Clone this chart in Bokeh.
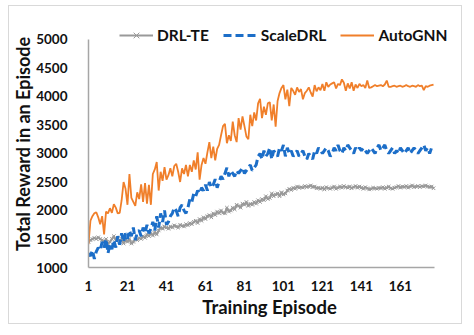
from bokeh.plotting import figure
from bokeh.models import Range1d, FixedTicker, Legend, LegendItem, Title, Spacer
from bokeh.layouts import column, row
from bokeh.embed import file_html
from bokeh.resources import INLINE

episodes = list(range(1, 179))

drl_te = [
    1450, 1480, 1500, 1520, 1500, 1530, 1500, 1480, 1450, 1500,
    1420, 1450, 1500, 1550, 1480, 1520, 1450, 1500, 1420, 1480,
    1450, 1500, 1420, 1450, 1500, 1480, 1520, 1500, 1550, 1520,
    1580, 1550, 1600, 1560, 1620, 1580, 1650, 1700, 1680, 1720,
    1700, 1680, 1720, 1700, 1740, 1720, 1700, 1750, 1730, 1720,
    1760, 1740, 1780, 1760, 1800, 1820, 1780, 1850, 1820, 1880,
    1850, 1900, 1920, 1880, 1950, 1920, 1980, 1950, 2000, 1960,
    1950, 2050, 1980, 2000, 2050, 2020, 2100, 2080, 2050, 2120,
    2100, 2150, 2080, 2120, 2100, 2150, 2120, 2180, 2150, 2200,
    2180, 2250, 2200, 2220, 2300, 2250, 2280, 2300, 2250, 2320,
    2280, 2300, 2350, 2380, 2360, 2400, 2380, 2420, 2400, 2410,
    2400, 2430, 2410, 2420, 2440, 2410, 2420, 2390, 2400, 2380,
    2400, 2370, 2410, 2390, 2380, 2400, 2420, 2380, 2400, 2420,
    2400, 2430, 2410, 2400, 2420, 2390, 2410, 2430, 2400, 2420,
    2400, 2380, 2410, 2390, 2370, 2380, 2400, 2390, 2380, 2400,
    2390, 2410, 2380, 2400, 2420, 2390, 2380, 2400, 2410, 2430,
    2400, 2420, 2410, 2430, 2400, 2420, 2440, 2410, 2420, 2430,
    2410, 2430, 2420, 2440, 2420, 2410, 2420, 2390,
]

scale_drl = [
    1250, 1200, 1300, 1150, 1280, 1350, 1300, 1450, 1350, 1500,
    1250, 1400, 1320, 1480, 1350, 1550, 1400, 1600, 1450, 1600,
    1500, 1650, 1550, 1700, 1480, 1620, 1650, 1550, 1700, 1600,
    1750, 1600, 1680, 1800, 1650, 1900, 1700, 1950, 1800, 2000,
    1750, 1800, 1900, 1950, 2050, 2000, 1900, 2050, 2100, 2000,
    1950, 2050, 2200, 2150, 2300, 2250, 2350, 2300, 2400, 2350,
    2450, 2350, 2500, 2400, 2450, 2550, 2400, 2500, 2600, 2550,
    2650, 2750, 2600, 2700, 2650, 2600, 2700, 2650, 2700, 2750,
    2650, 2700, 2750, 2800, 2700, 2750, 2800, 2950, 3000, 2900,
    3050, 2950, 3000, 3100, 2900, 3050, 3000, 2950, 3100, 3050,
    3150, 2950, 3100, 3000, 3050, 2950, 3000, 3050, 2950, 3000,
    3050, 2950, 2900, 3000, 2950, 2900, 3050, 3000, 3100, 3050,
    3000, 3050, 3100, 3050, 2950, 3000, 3100, 3050, 3150, 3050,
    3000, 3100, 3050, 3150, 3100, 3050, 3000, 3100, 3050, 3100,
    3050, 3100, 3050, 3000, 3050, 3100, 3050, 3000, 3100, 3150,
    3050, 3100, 3150, 3050, 3000, 3050, 3100, 3000, 3050, 3000,
    3100, 3050, 3000, 3050, 3100, 3000, 3050, 3100, 3050, 3000,
    3050, 3100, 3150, 3050, 3100, 3000, 3100, 3050,
]

auto_gnn = [
    1410, 1820, 1900, 1950, 1970, 1880, 1760, 1900, 1580, 1980,
    1950, 2040, 1960, 2110, 2050, 1950, 1960, 2180, 2500, 2380,
    2100, 2640, 2220, 2150, 2080, 2320, 2200, 2460, 2150, 2480,
    2120, 2450, 2100, 2640, 2720, 2850, 2350, 2680, 2520, 2760,
    2540, 2620, 2740, 2600, 2780, 2820, 2680, 2500, 2740, 2640,
    2800, 2600, 2800, 2680, 2880, 2720, 3020, 2540, 2800, 2920,
    2820, 3020, 3200, 2920, 3120, 2880, 3080, 3150, 3320, 3480,
    3520, 3180, 3320, 3220, 3560, 3320, 3200, 3620, 3420, 3650,
    3480, 3300, 3250, 3680, 3480, 3720, 3580, 3880, 3960, 3620,
    3820, 3680, 3880, 3900, 3580, 3860, 3470, 3920, 4060, 4150,
    4200, 3950, 4120, 3830, 4150, 4100, 4030, 4160, 4080, 4130,
    3950, 4060, 4100, 4160, 4070, 4000, 4200, 4090, 4160, 4110,
    4220, 4100, 4250, 4170, 4210, 4230, 4250, 4140, 4220, 4200,
    4300, 4240, 4100, 4230, 4140, 4250, 4100, 4210, 4150, 4220,
    4180, 4200, 4150, 4280, 4150, 4160, 4180, 4200, 4180, 4190,
    4200, 4180, 4210, 4280, 4170, 4170, 4180, 4190, 4170, 4180,
    4190, 4170, 4180, 4200, 4180, 4170, 4190, 4180, 4170, 4200,
    4180, 4190, 4110, 4180, 4170, 4190, 4200, 4210,
]

series_names = ["DRL-TE", "ScaleDRL", "AutoGNN"]
x_ticks = [1, 21, 41, 61, 81, 101, 121, 141, 161]
y_ticks = [1000, 1500, 2000, 2500, 3000, 3500, 4000, 4500, 5000]
x_label = "Training Episode"
y_label = "Total Reward in an Episode"

FONT = "Lato"
GRAY = "#999999"
BLUE = "#1C6EC8"
ORANGE = "#F07F2A"
AXIS = "#A6A6A6"
TXT = "#111111"

p = figure(width=452, height=317, output_backend="svg", toolbar_location=None,
           x_range=Range1d(1, 186.7), y_range=Range1d(1000, 5333),
           min_border_left=79, min_border_right=11, min_border_top=14,
           min_border_bottom=56, background_fill_color="white",
           border_fill_color="white", outline_line_color=None)
p.grid.visible = False

r_gray = p.line(episodes, drl_te, line_color=GRAY, line_width=2.2)
r_gray_m = p.scatter(episodes, drl_te, marker="x", size=5, line_color=GRAY, line_width=1)
r_blue = p.line(episodes, scale_drl, line_color=BLUE, line_width=3, line_dash="8 4")
r_orange = p.line(episodes, auto_gnn, line_color=ORANGE, line_width=1.8)

for ax in (p.xaxis[0], p.yaxis[0]):
    ax.axis_line_color = AXIS
    ax.axis_line_width = 1.5
    ax.major_tick_line_color = None
    ax.minor_tick_line_color = None
    ax.major_label_text_font = FONT
    ax.major_label_text_font_style = "bold"
    ax.major_label_text_font_size = "13.5px"
    ax.major_label_text_color = TXT

p.xaxis[0].ticker = FixedTicker(ticks=x_ticks)
p.yaxis[0].ticker = FixedTicker(ticks=y_ticks)
p.xaxis[0].bounds = (1, 178.5)
p.yaxis[0].bounds = (1000, 5000)
p.xaxis[0].major_label_standoff = 7
p.yaxis[0].major_label_standoff = 15

p.add_layout(Title(text=x_label, align="center", offset=18, text_font=FONT,
                   text_font_size="18.5px", text_font_style="bold",
                   text_color=TXT, standoff=0), "below")
p.add_layout(Title(text=y_label, align="center", offset=-6, text_font=FONT,
                   text_font_size="18px", text_font_style="bold",
                   text_color=TXT, standoff=0), "left")

legend = Legend(items=[
    LegendItem(label=series_names[0], renderers=[r_gray, r_gray_m]),
    LegendItem(label=series_names[1], renderers=[r_blue]),
    LegendItem(label=series_names[2], renderers=[r_orange]),
], orientation="horizontal", location=(31, 222), padding=0, spacing=14,
   glyph_width=34, glyph_height=20, label_standoff=4, label_height=20,
   label_text_font=FONT, label_text_font_style="bold",
   label_text_font_size="15.5px", label_text_color=TXT,
   border_line_color=None, background_fill_alpha=0, margin=0)
p.add_layout(legend, "center")

p.styles = {"outline": "1px solid #D9D9D9"}

layout = column(Spacer(height=6), row(Spacer(width=9), p))
open("out.html", "w").write(file_html(layout, INLINE))
